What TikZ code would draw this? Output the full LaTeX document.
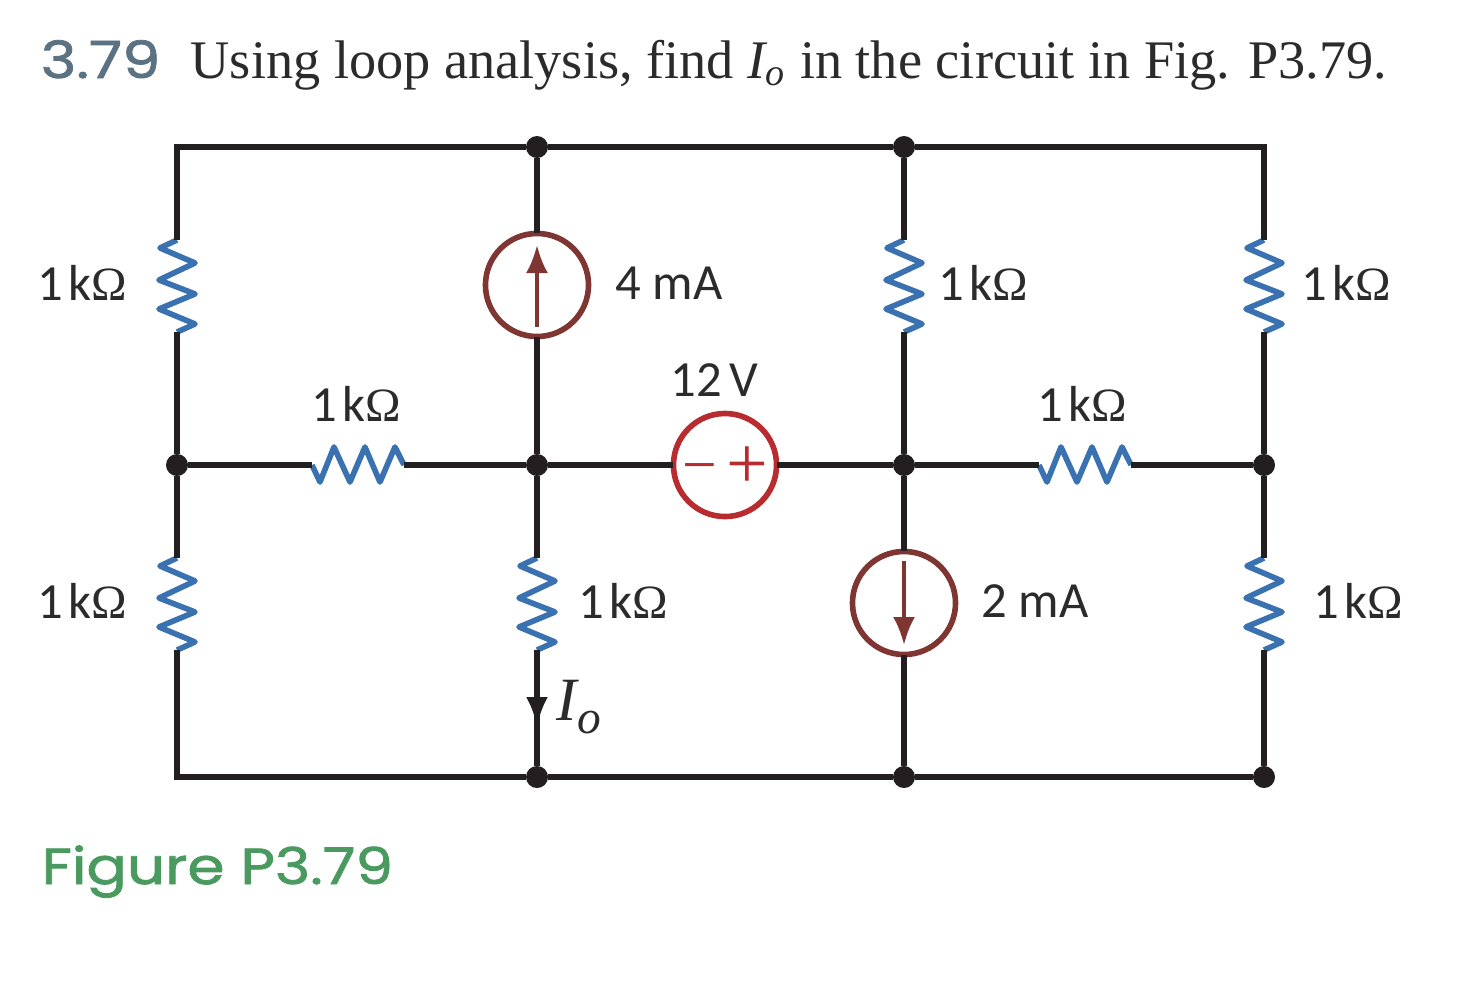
\documentclass[tikz,border=0pt]{standalone}
\usepackage{fontspec}
\setmainfont{Liberation Serif}
\newfontfamily\labelfont{Carlito}
\newfontfamily\headfont[FakeStretch=1.18,FakeBold=1.6]{Poppins}
\usetikzlibrary{calc}
\usetikzlibrary{arrows.meta}

\definecolor{wirec}{HTML}{231F20}
\definecolor{resc}{HTML}{3A71B0}
\definecolor{isrc}{HTML}{7F3532}
\definecolor{vsrc}{HTML}{B82C30}
\definecolor{headc}{HTML}{5B7283}
\definecolor{figc}{HTML}{4A9A60}
\definecolor{textc}{HTML}{2B2B2B}

\tikzset{
    wire/.style={draw=wirec, line width=1.6pt},
    dot/.style={circle, fill=wirec, inner sep=0pt, outer sep=0pt, minimum size=0.22cm},
    vres/.style={inner sep=0pt, outer sep=0pt, minimum width=0.36cm, minimum height=0.92cm},
    hres/.style={inner sep=0pt, outer sep=0pt, minimum width=0.92cm, minimum height=0.36cm},
    zig/.style={draw=resc, line width=1.6pt, line join=round},
    cursrc/.style={circle, draw=isrc, line width=1.6pt, inner sep=0pt, outer sep=0pt, minimum size=1.03cm},
    volsrc/.style={circle, draw=vsrc, line width=1.6pt, inner sep=0pt, outer sep=0pt, minimum size=1.03cm},
    curarrow/.style={draw=isrc, line width=1.1pt, -{Latex[length=0.28cm, width=0.22cm]}},
    lbl/.style={anchor=base west, inner sep=0pt, text=textc, font=\labelfont\fontsize{14.4}{14.4}\selectfont},
    sign/.style={inner sep=0pt, text=vsrc, font=\fontsize{21}{21}\selectfont}
}
\newcommand{\kohm}{1\kern0.11em k{\rmfamily\fontsize{13.6}{13.6}\selectfont\symbol{"03A9}}}
\newcommand{\vzig}[1]{\draw [zig] (#1.north) -- ++(-17,8) -- ++(35,15) -- ++(-36,17) -- ++(36,14) -- ++(-36,15) -- ++(36,15) -- (#1.south);}
\newcommand{\hzig}[1]{\draw [zig] (#1.west) -- ++(8,17) -- ++(14,-35) -- ++(16,35) -- ++(15,-35) -- ++(15,35) -- ++(15,-35) -- (#1.east);}

\begin{document}
\begin{tikzpicture}[x=0.01cm, y=-0.01cm]
    \useasboundingbox (0,0) rectangle (1482,987);

    \node (Num) at (40,78) [anchor=base west, inner sep=0pt, text=headc, font=\headfont\fontsize{14.6}{14.6}\selectfont] {3.79};
    \node (Title) at (190,78) [anchor=base west, inner sep=0pt, text=textc, font=\fontsize{15.45}{15.45}\selectfont] {Using loop analysis, find \textit{I\textsubscript{o}} in the circuit in Fig. P3.79.};
    \node (Fig) at (41,884) [anchor=base west, inner sep=0pt, text=figc, font=\headfont\fontsize{14.4}{14.4}\selectfont] {Figure P3.79};

    \coordinate (TL) at (177,147);
    \coordinate (TR) at (1264,147);
    \coordinate (BL) at (177,777);
    \node (T2) at (537,147) [dot] {};
    \node (T3) at (904,147) [dot] {};
    \node (M1) at (177,465) [dot] {};
    \node (M2) at (537,465) [dot] {};
    \node (M3) at (904,465) [dot] {};
    \node (M4) at (1264,465) [dot] {};
    \node (B2) at (537,777) [dot] {};
    \node (B3) at (904,777) [dot] {};
    \node (B4) at (1264,777) [dot] {};

    \node (R1) at (177,286) [vres] {};
    \node (R2) at (177,604) [vres] {};
    \node (R3) at (904,286) [vres] {};
    \node (R4) at (1264,286) [vres] {};
    \node (R5) at (537,604) [vres] {};
    \node (R6) at (1264,604) [vres] {};
    \node (R7) at (358,465) [hres] {};
    \node (R8) at (1085,465) [hres] {};

    \node (I4) at (537,285) [cursrc] {};
    \node (I2) at (904,603) [cursrc] {};
    \node (V12) at (725,465) [volsrc] {};

    \coordinate (I4a) at (537,327);
    \coordinate (I4b) at (537,245);
    \coordinate (I2a) at (904,561);
    \coordinate (I2b) at (904,645);
    \coordinate (IoTip) at (537,727);
    \coordinate (IoBase) at (537,712);

    \draw [curarrow] (I4a) -- (I4b);
    \draw [curarrow] (I2a) -- (I2b);

    \node (Minus) at (700,475) [sign, font=\fontsize{17.5}{17.5}\selectfont] {\symbol{"2212}};
    \node (Plus) at (747,468) [sign] {+};

    \foreach \r in {R1,R2,R3,R4,R5,R6} {\vzig{\r}}
    \foreach \r in {R7,R8} {\hzig{\r}}

    \draw [wire, line join=miter] (R1) -- (TL) -- (T2) -- (T3) -- (TR) -- (R4);
    \draw [wire, line join=miter] (R2) -- (BL) -- (B2) -- (B3) -- (B4);
    \draw [wire] (R1) -- (M1) -- (R2);
    \draw [wire] (R4) -- (M4) -- (R6) -- (B4);
    \draw [wire] (M1) -- (R7) -- (M2) -- (V12) -- (M3) -- (R8) -- (M4);
    \draw [wire] (T2) -- (I4) -- (M2) -- (R5);
    \draw [wire] (T3) -- (R3) -- (M3) -- (I2) -- (B3);
    \draw [wire, -{Latex[length=0.3cm, width=0.22cm]}] (R5) -- (IoTip);
    \draw [wire] (IoBase) -- (B2);

    \node (L1) at (37,300) [lbl] {\kohm};
    \node (L2) at (37,618) [lbl] {\kohm};
    \node (L3) at (938,300) [lbl] {\kohm};
    \node (L4) at (1301,300) [lbl] {\kohm};
    \node (L5) at (578,618) [lbl] {\kohm};
    \node (L6) at (1313,618) [lbl] {\kohm};
    \node (L7) at (311,421) [lbl] {\kohm};
    \node (L8) at (1037,421) [lbl] {\kohm};
    \node (LI4) at (615,299) [lbl] {4 mA};
    \node (LI2) at (981,617) [lbl] {2 mA};
    \node (LV) at (670,396) [lbl] {12\kern0.15em V};
    \node (LIo) at (556,720) [anchor=base west, inner sep=0pt, text=textc, font=\itshape\fontsize{17.5}{17.5}\selectfont] {I\raisebox{-0.22em}{\fontsize{13.5}{13.5}\selectfont o}};
\end{tikzpicture}
\end{document}
